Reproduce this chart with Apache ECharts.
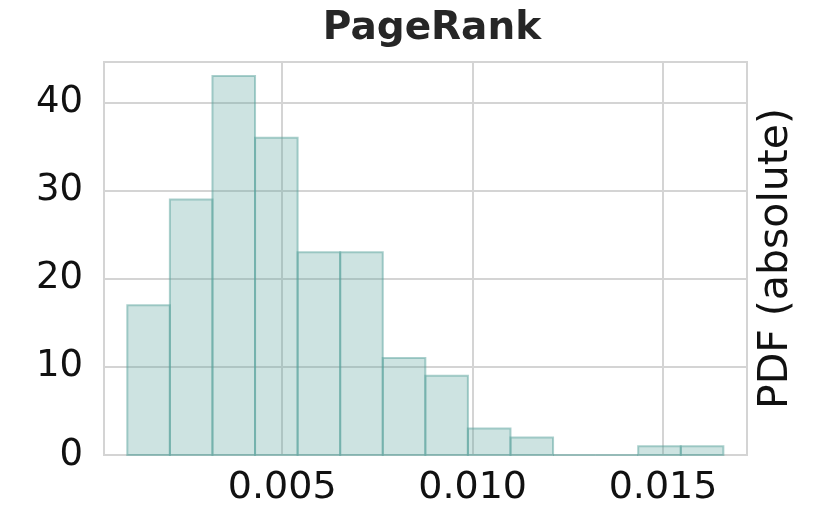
<!DOCTYPE html>
<html>
<head>
<meta charset="utf-8">
<script src="https://cdn.jsdelivr.net/npm/echarts@6/dist/echarts.min.js"></script>
<style>html,body{margin:0;padding:0;background:#fff;}#chart{width:830px;height:519px;}</style>
</head>
<body>
<div id="chart"></div>
<script>
// Histogram of PageRank values
const binEdges = [0.000932, 0.002050, 0.003168, 0.004286, 0.005404, 0.006522, 0.007640, 0.008758, 0.009876, 0.010994, 0.012112, 0.013230, 0.014348, 0.015466, 0.016584];
const counts = [17, 29, 43, 36, 23, 23, 11, 9, 3, 2, 0, 0, 1, 1];
const xTicks = [0.005, 0.010, 0.015];
const yTicks = [0, 10, 20, 30, 40];
const titleText = 'PageRank';
const yName = 'PDF (absolute)';

const data = counts.map((c, i) => [binEdges[i], binEdges[i + 1], c]);

const chart = echarts.init(document.getElementById('chart'), null, { renderer: 'canvas' });
const font = 'DejaVu Sans';
chart.setOption({
  animation: false,
  backgroundColor: '#ffffff',
  title: {
    text: titleText,
    left: 427, top: 4, textAlign: 'center',
    textStyle: { fontFamily: font, fontWeight: 'bold', fontSize: 39, color: '#262626' }
  },
  grid: {
    left: 104, right: 83, top: 62, bottom: 64,
    show: true, borderColor: '#d4d4d4', borderWidth: 2, backgroundColor: 'transparent'
  },
  xAxis: {
    type: 'value', min: 0.00032, max: 0.017205,
    axisLine: { show: false },
    axisTick: { show: false, customValues: xTicks },
    axisLabel: {
      customValues: xTicks, fontFamily: font, fontSize: 38, color: '#111', margin: 14,
      formatter: v => v.toFixed(3)
    },
    splitLine: { show: true, lineStyle: { color: '#d4d4d4', width: 2 } }
  },
  yAxis: [{
    type: 'value', min: 0, max: 44.6, interval: 10,
    axisLine: { show: false },
    axisTick: { show: false },
    axisLabel: {
      fontFamily: font, fontSize: 37, color: '#111', margin: 21, showMaxLabel: false,
      formatter: v => (yTicks.indexOf(v) >= 0 ? String(v) : '')
    },
    splitLine: { show: true, lineStyle: { color: '#d4d4d4', width: 2 } }
  }, {
    type: 'value', min: 0, max: 44.6, position: 'right',
    name: yName, nameLocation: 'middle', nameRotate: 90, nameGap: 9,
    nameTextStyle: { fontFamily: font, fontSize: 41, color: '#111' },
    axisLine: { show: false }, axisTick: { show: false },
    axisLabel: { show: false }, splitLine: { show: false }
  }],
  series: [{
    type: 'custom',
    data: data,
    encode: { x: [0, 1], y: 2 },
    renderItem: function (params, api) {
      const p0 = api.coord([api.value(0), 0]);
      const p1 = api.coord([api.value(1), api.value(2)]);
      return {
        type: 'rect',
        shape: { x: p0[0], y: p1[1], width: p1[0] - p0[0], height: p0[1] - p1[1] },
        style: { fill: 'rgba(88,162,155,0.3)', stroke: 'rgba(88,162,155,0.5)', lineWidth: 2 }
      };
    }
  }]
});
</script>
</body>
</html>
